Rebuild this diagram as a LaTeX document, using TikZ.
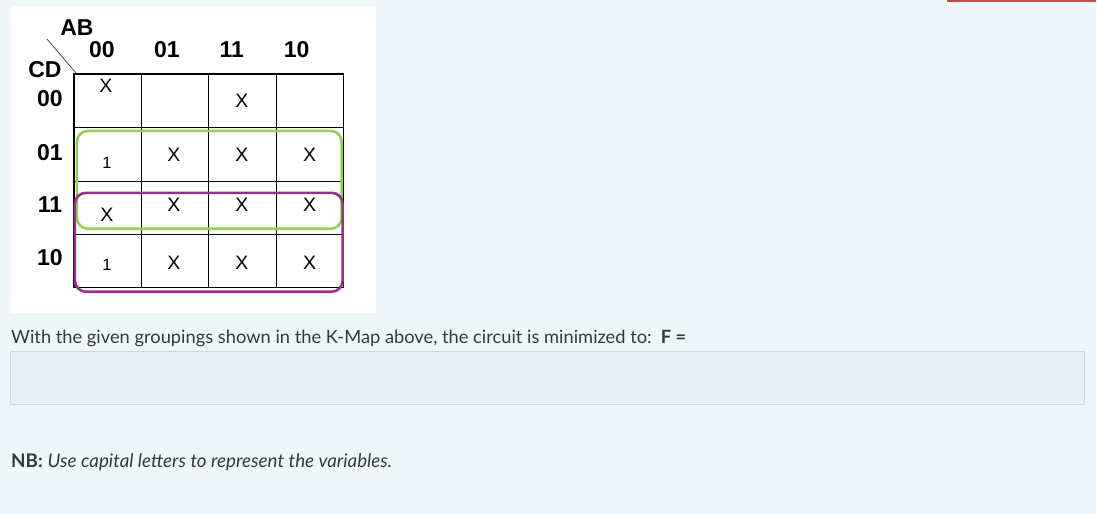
\documentclass[tikz,border=0pt]{standalone}
\usepackage{fontspec}
\setmainfont{Lato}
\newfontfamily\kmapfont{Liberation Sans}
\definecolor{pagebg}{HTML}{F0F7FA}
\definecolor{fieldbg}{HTML}{E8EFF2}
\definecolor{fieldline}{HTML}{CDD5D9}
\definecolor{grpgreen}{HTML}{92D050}
\definecolor{grppurple}{HTML}{992E8C}
\definecolor{textdark}{HTML}{2D3B45}
\definecolor{topred}{HTML}{D5483F}
\begin{document}
\begin{tikzpicture}[x=1pt,y=-1pt,
    hdr/.style={font=\kmapfont\bfseries\fontsize{23}{23}\selectfont, inner sep=0pt},
    entry/.style={font=\kmapfont\fontsize{19.5}{19.5}\selectfont, inner sep=0pt},
    one/.style={font=\kmapfont\fontsize{16.5}{16.5}\selectfont, inner sep=0pt},
    group/.style={line width=2.6pt, rounded corners=11pt},
    para/.style={anchor=base west, inner sep=0pt, text=textdark}]
  \fill[pagebg] (0,0) rectangle (1097,514);
  \fill[white] (11,6) rectangle (376,313);
  \draw[topred, line width=2pt] (948,1) -- (1097,1);

  \node[hdr] (ab-label) at (77,28) {AB};
  \node[hdr] (cd-label) at (45,70) {CD};
  \coordinate (slash-top) at (47,39);
  \coordinate (slash-end) at (76,73);
  \draw[line width=0.8pt, black!70] (slash-top) -- (slash-end);

  \foreach \name/\x in {00/102, 01/167, 11/232, 10/297}
    \node[hdr] (col-\name) at (\x,50) {\name};
  \foreach \name/\y in {00/99, 01/153, 11/205, 10/258}
    \node[hdr] (row-\name) at (50,\y) {\name};

  \draw[line width=1.2pt] (74,74) rectangle (344,288);
  \foreach \x in {142, 209, 277}
    \draw[line width=1.2pt] (\x,74) -- (\x,288);
  \foreach \y in {128, 182, 235}
    \draw[line width=1.2pt] (74,\y) -- (344,\y);

  \foreach \name/\x/\y in {m0/106/86, m12/242/101,
      m5/174/155, m13/242/155, m9/310/155,
      m3/107/215, m7/174/205, m15/242/205, m11/310/205,
      m6/174/263, m14/242/263, m10/310/263}
    \node[entry] (\name) at (\x,\y) {X};
  \node[one] (m1) at (107,163) {1};
  \node[one] (m2) at (107,265) {1};

  \draw[group, grpgreen] (77,131) rectangle (342,229);
  \draw[group, grppurple] (75,193) rectangle (343,292);

  \node[para, font=\fontsize{18.3}{20}\selectfont] (question) at (11,344)
    {With the given groupings shown in the K-Map above, the circuit is minimized to:\ \ \textbf{F =}};
  \draw[fieldline, fill=fieldbg, line width=1pt] (11,352) rectangle (1085,405);
  \node[para, font=\fontsize{18.8}{20}\selectfont] (note) at (11,468)
    {\textbf{NB:} \textit{Use capital letters to represent the variables.}};
\end{tikzpicture}
\end{document}
